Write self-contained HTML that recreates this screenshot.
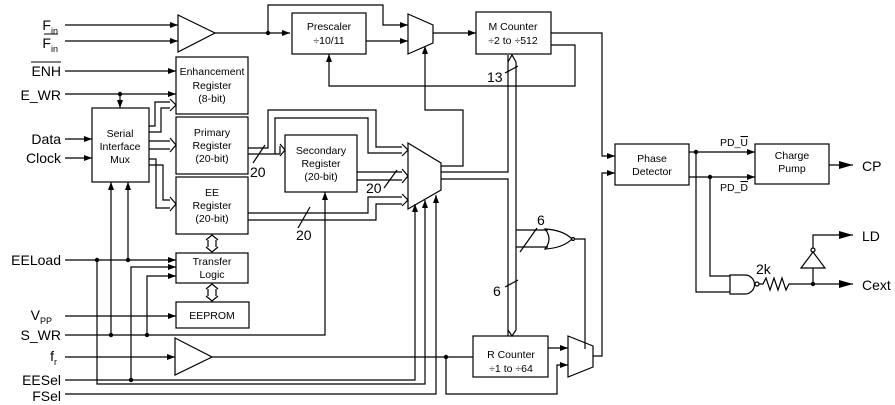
<!DOCTYPE html>
<html><head><meta charset="utf-8"><style>
html,body{margin:0;padding:0;background:#fff;}
svg{display:block;}
text{font-family:"Liberation Sans",sans-serif;fill:#000;}
.s{font-size:10.5px;}
.b{font-size:14px;}
</style></head><body>
<svg width="895" height="405" viewBox="0 0 895 405" xmlns="http://www.w3.org/2000/svg">
<defs>
<marker id="a" markerWidth="8" markerHeight="6" refX="8" refY="3" orient="auto" markerUnits="userSpaceOnUse"><path d="M0,0 L8,3 L0,6z" fill="#000"/></marker>
<marker id="A" markerWidth="14" markerHeight="8" refX="14" refY="4" orient="auto" markerUnits="userSpaceOnUse"><path d="M0,0 L14,4 L0,8z" fill="#000"/></marker>
</defs>
<g stroke="#000" stroke-width="1.2" fill="none">
<rect x="292" y="13" width="74" height="41"/>
<rect x="476" y="12" width="75" height="42"/>
<rect x="176" y="57" width="72" height="57"/>
<rect x="92" y="108" width="57" height="74"/>
<rect x="176" y="117" width="72" height="57"/>
<rect x="285" y="135" width="72" height="57"/>
<rect x="176" y="177" width="72" height="57"/>
<rect x="176" y="253" width="72" height="30"/>
<rect x="176" y="302" width="73" height="26"/>
<rect x="473" y="336" width="75" height="41"/>
<rect x="615" y="144" width="74" height="41"/>
<rect x="755" y="144" width="74" height="40"/>
<path d="M178,15 L215,33 L178,52z"/>
<path d="M175,338 L212,357 L175,375z"/>
<path d="M408,14 L433,25 L433,43 L408,54z"/>
<path d="M408,143 L441,163 L441,190 L408,209z"/>
<path d="M568,336 L593,346 L593,367 L568,377z"/>
<path d="M65,25 H178" marker-end="url(#a)"/>
<path d="M65,41 H178" marker-end="url(#a)"/>
<path d="M215,33 H290" marker-end="url(#a)"/>
<path d="M268,33 V5 H383 V25 H408" marker-end="url(#a)"/>
<path d="M366,41 H408" marker-end="url(#a)"/>
<path d="M433,33 H476" marker-end="url(#a)"/>
<path d="M65,71 H176" marker-end="url(#a)"/>
<path d="M65,94 H176" marker-end="url(#a)"/>
<path d="M120,94 V108" marker-end="url(#a)"/>
<path d="M65,139 H92" marker-end="url(#a)"/>
<path d="M65,158 H92" marker-end="url(#a)"/>
<path d="M149,126 H155 V102 H170 M149,132 H161 V108 H170 M170,99 L176,105 L170,111"/>
<path d="M149,141 H170 M149,149 H170 M170,138 L176,145 L170,152"/>
<path d="M149,159 H156 V208 H170 M149,165 H163 V200 H170 M170,197 L176,204 L170,211"/>
<path d="M248,148 H268 V110 H376 V147 H402 M248,154 H280 M275,154 V118 H368 V153 H402 M402,144 L408,150 L402,156"/>
<path d="M280,146 V154 M280,144 L285,150 L280,156"/>
<path d="M357,172 H402 M357,180 H402 M402,169 L408,176 L402,183"/>
<path d="M248,213 H368 V197 H402 M248,220 H376 V204 H402 M402,194 L408,200 L402,206"/>
<path d="M208,240 V247 M216,240 V247 M206,240 L212,235 L218,240 M206,247 L212,252 L218,247"/>
<path d="M208,289 V296 M216,289 V296 M206,289 L212,284 L218,289 M206,296 L212,301 L218,296"/>
<path d="M253,163 L265,145 M298,228 L310,207 M384,188 L397,170 M505,73 L518,66 M520,252 L537,228 M505,287 L518,280"/>
<path d="M65,260 H176" marker-end="url(#a)"/>
<path d="M128,260 V182" marker-end="url(#a)"/>
<path d="M111,335 V182" marker-end="url(#a)"/>
<path d="M97,260 V384 H425 V200" marker-end="url(#a)"/>
<path d="M131,380 V267 H176" marker-end="url(#a)"/>
<path d="M147,335 V276 H176" marker-end="url(#a)"/>
<path d="M65,316 H176" marker-end="url(#a)"/>
<path d="M65,335 H325 V192" marker-end="url(#a)"/>
<path d="M65,357 H175" marker-end="url(#a)"/>
<path d="M212,357 H473"/>
<path d="M65,380 H415 V204" marker-end="url(#a)"/>
<path d="M65,394 H436 V195" marker-end="url(#a)"/>
<path d="M441,166 H463 V110 H425 V46" marker-end="url(#a)"/>
<path d="M441,172 H508 V55"/>
<path d="M441,179 H508 V336"/>
<path d="M516,62 V330 M508,62 L512,55 L516,62 M508,330 L512,336 L516,330" />
<path d="M551,33 H602 V156 H615" marker-end="url(#a)"/>
<path d="M551,45 H575 V86 H329 V54" marker-end="url(#a)"/>
<path d="M516,230 H548 M516,247 H548"/>
<path d="M545,229 Q553,239 545,249 Q563,248 572,239 Q563,230 545,229z"/>
<circle cx="573" cy="239" r="1.5"/>
<path d="M575,239 H585 V349"/>
<path d="M548,348 H568" marker-end="url(#a)"/>
<path d="M446,357 V394 H557 V365 H568" marker-end="url(#a)"/>
<path d="M593,356 H602 V173 H615" marker-end="url(#a)"/>
<path d="M689,152 H755" marker-end="url(#a)"/>
<path d="M689,177 H755" marker-end="url(#a)"/>
<path d="M829,165 H853" marker-end="url(#A)"/>
<path d="M696,152 V292 H730 M710,177 V276 H730"/>
<path d="M730,275 H745 A9.5,9.5 0 0 1 745,294 H730z"/>
<circle cx="757" cy="284" r="2"/>
<path d="M759,284 H763 L766,278 L770,290 L774,278 L778,290 L782,278 L786,290 L789,284 H853" marker-end="url(#A)"/>
<path d="M813,284 V268 M801,268 H825 L813,252z M813,248 V235 H853" marker-end="url(#A)"/>
<circle cx="813" cy="250" r="2"/>
</g>
<g fill="#000">
<circle cx="268" cy="33" r="2.2"/><circle cx="120" cy="94" r="2.2"/>
<circle cx="97" cy="260" r="2.2"/><circle cx="128" cy="260" r="2.2"/>
<circle cx="111" cy="335" r="2.2"/><circle cx="147" cy="335" r="2.2"/>
<circle cx="131" cy="380" r="2.2"/><circle cx="446" cy="357" r="2.2"/>
<circle cx="696" cy="152" r="2.2"/><circle cx="710" cy="177" r="2.2"/>
<circle cx="813" cy="284" r="2.2"/>
</g>
<g class="s" text-anchor="middle">
<text x="329" y="30">Prescaler</text><text x="329" y="44">÷10/11</text>
<text x="513" y="30">M Counter</text><text x="513" y="44">÷2 to ÷512</text>
<text x="212" y="75">Enhancement</text><text x="212" y="89">Register</text><text x="212" y="102">(8-bit)</text>
<text x="120" y="137">Serial</text><text x="120" y="150">Interface</text><text x="120" y="163">Mux</text>
<text x="212" y="136">Primary</text><text x="212" y="149">Register</text><text x="212" y="162">(20-bit)</text>
<text x="321" y="154">Secondary</text><text x="321" y="167">Register</text><text x="321" y="180">(20-bit)</text>
<text x="212" y="196">EE</text><text x="212" y="209">Register</text><text x="212" y="222">(20-bit)</text>
<text x="212" y="265">Transfer</text><text x="212" y="278">Logic</text>
<text x="212" y="319">EEPROM</text>
<text x="511" y="358">R Counter</text><text x="511" y="372">÷1 to ÷64</text>
<text x="652" y="162">Phase</text><text x="652" y="175">Detector</text>
<text x="792" y="159">Charge</text><text x="792" y="172">Pump</text>
<text x="734" y="146">PD_<tspan text-decoration="overline">U</tspan></text>
<text x="734" y="191">PD_<tspan text-decoration="overline">D</tspan></text>
</g>
<g class="b" text-anchor="end">
<text x="58" y="30">F<tspan font-size="9" dy="4">in</tspan></text>
<text x="58" y="48">F<tspan font-size="9" dy="4">in</tspan></text>
<text x="61" y="76">ENH</text>
<text x="61" y="100">E_WR</text>
<text x="61" y="144">Data</text>
<text x="61" y="163">Clock</text>
<text x="61" y="265">EELoad</text>
<text x="52" y="320">V<tspan font-size="9" dy="4">PP</tspan></text>
<text x="61" y="340">S_WR</text>
<text x="57" y="361">f<tspan font-size="9" dy="4">r</tspan></text>
<text x="61" y="385">EESel</text>
<text x="61" y="401">FSel</text>
</g>
<path d="M44,34 H58 M31,62 H61" stroke="#000" stroke-width="1"/>
<g class="b">
<text x="250" y="177">20</text><text x="366" y="193">20</text><text x="296" y="240">20</text>
<text x="487" y="82">13</text><text x="537" y="225">6</text><text x="493" y="296">6</text>
<text x="756" y="274">2k</text>
<text x="862" y="171">CP</text><text x="862" y="241">LD</text><text x="862" y="290">Cext</text>
</g>
</svg>
</body></html>
